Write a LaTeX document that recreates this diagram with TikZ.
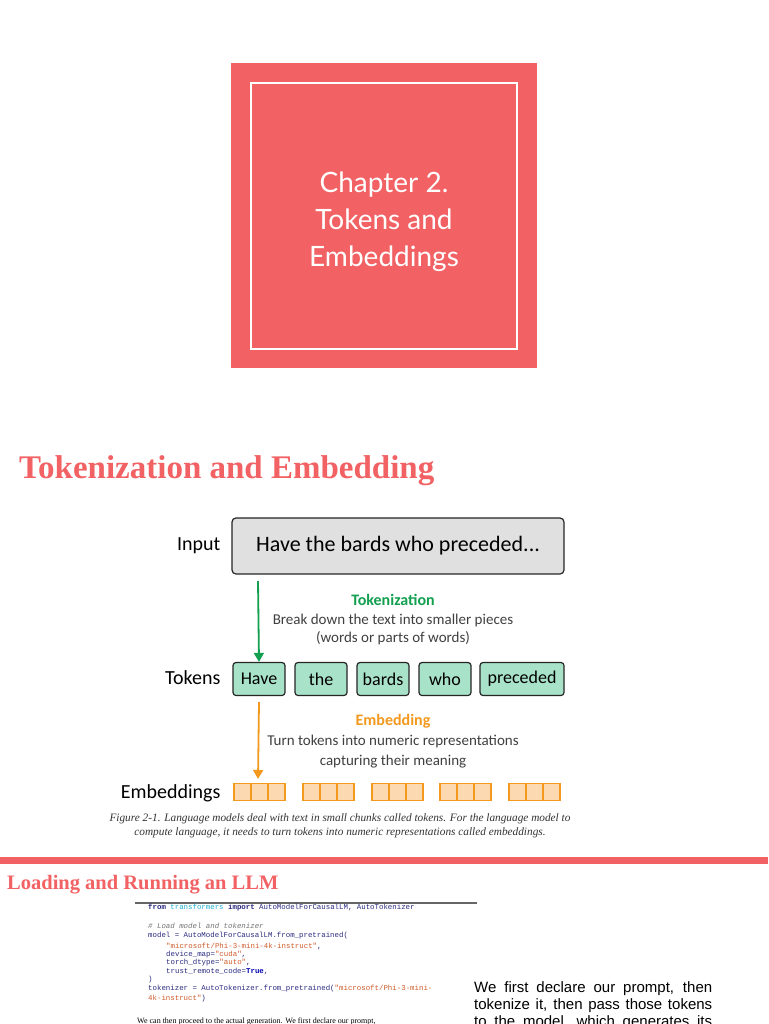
\documentclass[tikz,border=0pt]{standalone}
\usepackage{fontspec}
\usetikzlibrary{arrows.meta}
\setmainfont{Liberation Serif}
\newfontfamily\lato{Lato}
\newfontfamily\carl{Carlito}
\newfontfamily\arialf{Liberation Sans}
\newfontfamily\monof{Liberation Mono}
\definecolor{salmon}{HTML}{F26163}
\definecolor{tokgreen}{HTML}{A8E2C8}
\definecolor{dgreen}{HTML}{12A050}
\definecolor{orng}{HTML}{F39A1E}
\definecolor{lorng}{HTML}{FCD9B0}
\definecolor{navy}{HTML}{2A2A80}
\definecolor{cyanc}{HTML}{1FB0D0}
\definecolor{strc}{HTML}{D05A2A}
\tikzset{x=1pt,y=-1pt,
 tokbox/.style={draw=black!85,line width=1.2pt,fill=tokgreen,rounded corners=3pt,minimum height=33pt,font=\carl\fontsize{18}{18}\selectfont,inner sep=0pt},
 lbl/.style={anchor=east,font=\carl\fontsize{20}{20}\selectfont},
 cell/.style={draw=orng,line width=1.3pt,fill=lorng,minimum width=17pt,minimum height=17pt,inner sep=0pt},
 codel/.style={anchor=west,font=\monof\fontsize{7.4}{7.4}\selectfont,text=navy,inner sep=0pt},
 pline/.style={anchor=base west,font=\arialf\fontsize{15}{15}\selectfont,inner sep=0pt}}
\begin{document}
\begin{tikzpicture}
\path[use as bounding box] (0,0) rectangle (768,1024);
\clip (0,0) rectangle (768,1024);
\fill[white] (0,0) rectangle (768,1024);
% chapter box
\fill[salmon] (231,63) rectangle (537,368);
\draw[white,line width=1.5pt] (251,83) rectangle (517,349);
\node[text=white,font=\lato\fontsize{28}{37}\selectfont,align=center] (title) at (384,222) {Chapter 2.\\Tokens and\\Embeddings};
% heading
\node[anchor=west,text=salmon,font=\bfseries\fontsize{33}{33}\selectfont,inner sep=0pt] (h1) at (19,471) {Tokenization and Embedding};
% diagram
\node[draw=black!85,line width=1.2pt,fill=black!12,rounded corners=4pt,minimum width=332pt,minimum height=56pt,font=\carl\fontsize{22}{22}\selectfont] (inp) at (398,546) {Have the bards who preceded...};
\node[lbl] (inl) at (224,546) {Input};
\node[tokbox,minimum width=52pt] (t1) at (259,679) {Have};
\node[tokbox,minimum width=52pt] (t2) at (321,679) {the};
\node[tokbox,minimum width=52pt] (t3) at (383,679) {bards};
\node[tokbox,minimum width=52pt] (t4) at (445,679) {who};
\node[tokbox,minimum width=84pt] (t5) at (522,679) {preceded};
\node[lbl] (tl) at (224,678) {Tokens};
\coordinate (a1) at (258,581);
\draw[dgreen,line width=1.8pt,-{Triangle[length=9pt,width=10pt]}] (a1) -- (t1.north);
\node[text=dgreen,font=\carl\bfseries\fontsize{16}{16}\selectfont] (tz) at (393,600) {Tokenization};
\node[text=black!75,font=\carl\fontsize{15}{18}\selectfont,align=center] (tzd) at (393,629) {Break down the text into smaller pieces\\(words or parts of words)};
\coordinate (e1) at (258,779);
\draw[orng,line width=1.8pt,-{Triangle[length=9pt,width=10pt]}] (t1.south) ++(0,6) -- (e1);
\node[text=orng,font=\carl\bfseries\fontsize{16}{16}\selectfont] (em) at (393,721) {Embedding};
\node[text=black!75,font=\carl\fontsize{15}{20}\selectfont,align=center] (emd) at (393,752) {Turn tokens into numeric representations\\capturing their meaning};
\node[lbl] (el) at (224,793) {Embeddings};
\foreach \gx in {234,303,372,440,509}{
  \foreach \k in {0,1,2}{
    \node[cell] at (\gx+8.5+17*\k,792) {};
  }
}
\node[font=\itshape\fontsize{11.3}{14}\selectfont,align=center,text=black!80] (cap) at (340,826) {Figure 2-1. Language models deal with text in small chunks called tokens. For the language model to\\compute language, it needs to turn tokens into numeric representations called embeddings.};
% band
\fill[salmon] (0,857) rectangle (768,864);
\node[anchor=west,text=salmon,font=\bfseries\fontsize{20.5}{20.5}\selectfont,inner sep=0pt] (h2) at (7,885) {Loading and Running an LLM};
\draw[black!60,line width=1.2pt] (135,903) -- (477,903);
\node[codel] (c1) at (148,908) {{\bfseries from} \textcolor{cyanc}{transformers} {\bfseries import} AutoModelForCausalLM, AutoTokenizer};
\node[codel,text=black!55] (c2) at (148,926) {\itshape \# Load model and tokenizer};
\node[codel] (c3) at (148,936) {model = AutoModelForCausalLM.from\_pretrained(};
\node[codel] (c4) at (166,946) {\textcolor{strc}{"microsoft/Phi-3-mini-4k-instruct"},};
\node[codel] (c5) at (166,955) {device\_map=\textcolor{strc}{"cuda"},};
\node[codel] (c6) at (166,963) {torch\_dtype=\textcolor{strc}{"auto"},};
\node[codel] (c7) at (166,971) {trust\_remote\_code=\textcolor{blue!70!black}{\bfseries True},};
\node[codel] (c8) at (148,980) {)};
\node[codel] (c9) at (148,989) {tokenizer = AutoTokenizer.from\_pretrained(\textcolor{strc}{"microsoft/Phi-3-mini-}};
\node[codel] (c10) at (148,999) {\textcolor{strc}{4k-instruct"})};
\node[anchor=west,font=\fontsize{8}{8}\selectfont,inner sep=0pt] (p1) at (137,1022) {We can then proceed to the actual generation. We first declare our prompt,};
\node[pline] (l1) at (474,992) {\makebox[238pt][s]{We first declare our prompt, then}};
\node[pline] (l2) at (474,1009) {\makebox[238pt][s]{tokenize it, then pass those tokens}};
\node[pline] (l3) at (474,1026) {\makebox[238pt][s]{to the model, which generates its}};
\end{tikzpicture}
\end{document}
